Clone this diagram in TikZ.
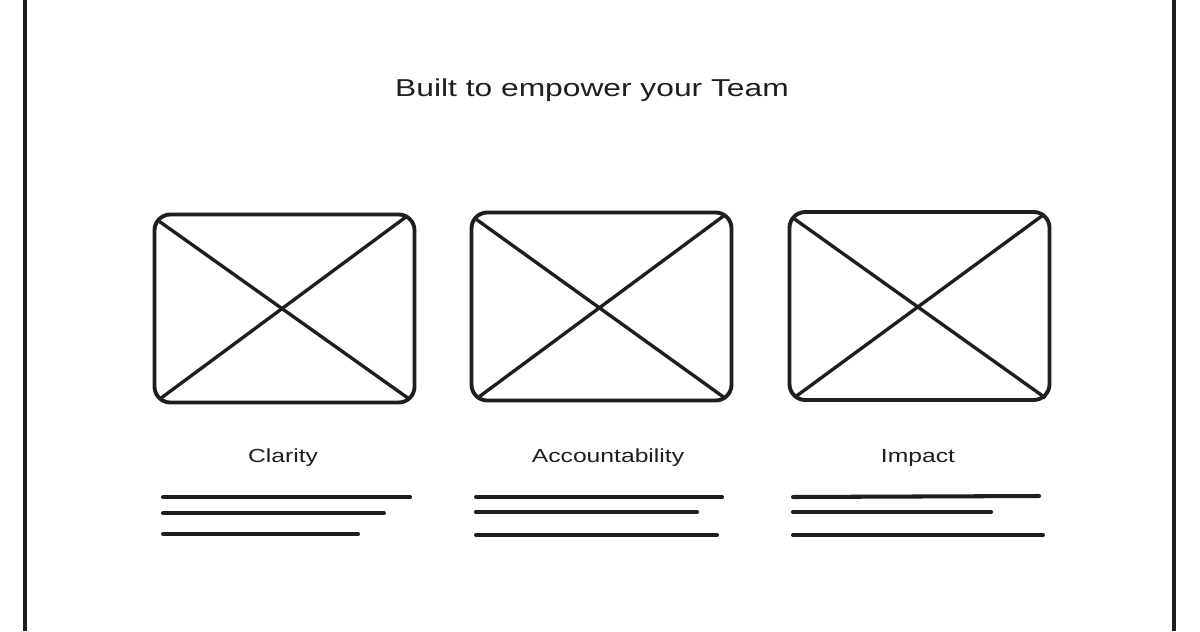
\documentclass[tikz,border=0pt]{standalone}
\usepackage{fontspec}
\setmainfont{Liberation Sans}[FakeStretch=1.3]
\usetikzlibrary{positioning}
\definecolor{ink}{HTML}{1E1E1E}

\begin{document}
\begin{tikzpicture}[scale=1,
  ph/.style={draw=ink, line width=2.2pt, rounded corners=9pt, minimum width=5.2cm, minimum height=3.76cm, inner sep=0pt},
  cross/.style={ink, line width=1.9pt},
  bar/.style={ink, line width=2.3pt, line cap=round},
  side/.style={ink, line width=2pt},
  lbl/.style={text=ink, anchor=base, font=\fontsize{10.8}{13}\selectfont}]
\fill[white] (0,0) rectangle (24,-12.62);
\useasboundingbox (0,0) rectangle (24,-12.62);
\draw[side] (0.5,0) -- (0.5,-12.62);
\draw[side] (23.48,0) -- (23.48,-12.62);

\node[text=ink, anchor=base, font=\fontsize{13.9}{17}\selectfont] (title) at (11.84,-1.94) {Built to empower your Team};

% image placeholders
\node[ph] (b1) at (5.69,-6.17) {};
\node[ph] (b2) at (12.03,-6.13) {};
\node[ph] (b3) at (18.39,-6.12) {};

\draw[cross] ([shift={(0.14,-0.18)}]b1.north west) -- ([shift={(-0.16,0.12)}]b1.south east);
\draw[cross] ([shift={(-0.2,-0.08)}]b1.north east) -- ([shift={(0.16,0.12)}]b1.south west);
\draw[cross] ([shift={(0.14,-0.18)}]b2.north west) -- ([shift={(-0.16,0.08)}]b2.south east);
\draw[cross] ([shift={(-0.16,-0.08)}]b2.north east) -- ([shift={(0.2,0.12)}]b2.south west);
\draw[cross] ([shift={(0.14,-0.18)}]b3.north west) -- ([shift={(-0.12,0.08)}]b3.south east);
\draw[cross] ([shift={(-0.14,-0.08)}]b3.north east) -- ([shift={(0.18,0.12)}]b3.south west);

\node[lbl] (c1) at (5.66,-9.24) {Clarity};
\node[lbl] (c2) at (12.16,-9.24) {Accountability};
\node[lbl] (c3) at (18.36,-9.24) {Impact};

% text lines
\draw[bar] (3.26,-9.94) -- (8.2,-9.94);
\draw[bar] (3.26,-10.26) -- (7.68,-10.26);
\draw[bar] (3.26,-10.68) -- (7.16,-10.68);
\draw[bar] (9.52,-9.94) -- (14.44,-9.94);
\draw[bar] (9.52,-10.24) -- (13.94,-10.24);
\draw[bar] (9.52,-10.7) -- (14.34,-10.7);
\draw[bar] (15.86,-9.94) -- (20.78,-9.92);
\draw[bar] (15.86,-10.24) -- (19.82,-10.24);
\draw[bar] (15.86,-10.7) -- (20.86,-10.7);

\end{tikzpicture}
\end{document}
